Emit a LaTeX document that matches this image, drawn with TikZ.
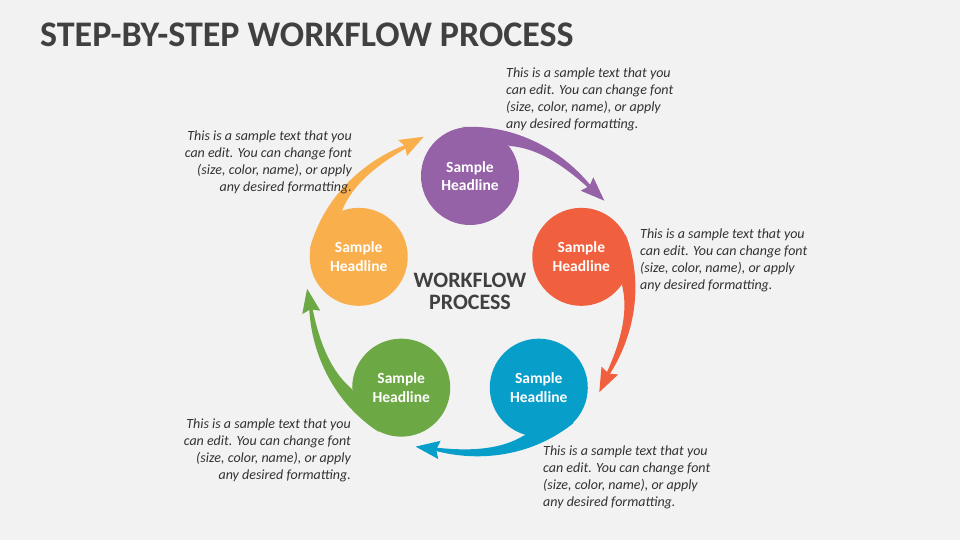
\documentclass[tikz,border=0pt]{standalone}
\usepackage{fontspec}
\setmainfont{Carlito}
\usetikzlibrary{positioning}

\definecolor{bgGray}{RGB}{242,242,242}
\definecolor{textGray}{RGB}{64,64,64}
\definecolor{noteGray}{RGB}{50,50,50}
\definecolor{wfPurple}{RGB}{149,98,168}
\definecolor{wfRed}{RGB}{241,96,62}
\definecolor{wfBlue}{RGB}{8,158,202}
\definecolor{wfGreen}{RGB}{108,168,68}
\definecolor{wfOrange}{RGB}{249,175,76}

\tikzset{
  head/.style={circle, minimum size=98pt, inner sep=0pt, text=white,
    font=\bfseries\fontsize{15.5}{18.5}\selectfont, align=center},
  note/.style={inner sep=0pt, text=noteGray,
    font=\itshape\fontsize{14}{17}\selectfont},
}

\begin{document}
\begin{tikzpicture}[x=1pt,y=1pt]
	\fill[bgGray] (0,0) rectangle (960,540);
	\useasboundingbox (0,0) rectangle (960,540);

	% title
	\node[anchor=base west, inner sep=0pt, text=textGray, font=\bfseries\fontsize{36}{40}\selectfont] (title) at (40,493) {STEP-BY-STEP WORKFLOW PROCESS};

	\coordinate (hub) at (470,247);

	% tapered arrows, one per step, turned round the hub
	\foreach \ang/\col in {0/wfPurple, -72/wfRed, -144/wfBlue, -216/wfGreen, -288/wfOrange}{
		\begin{scope}[shift={(hub)}, rotate=\ang]
			\fill[\col] (-8,166) .. controls (45,169) and (92,143) .. (121,107) -- (118.5,105) .. controls (90,131) and (65,145) .. (40,147) -- cycle;
			\fill[\col] (134.3,92.3) -- (123.3,115.7) -- (119.5,107) -- (110.7,102.3) -- cycle;
		\end{scope}
	}

	% step circles
	\node[head, fill=wfPurple] (purple) at ([shift={(90:117)}]hub) {Sample\\Headline};
	\node[head, fill=wfRed] (red) at ([shift={(18:117)}]hub) {Sample\\Headline};
	\node[head, fill=wfBlue] (blue) at ([shift={(-54:117)}]hub) {Sample\\Headline};
	\node[head, fill=wfGreen] (green) at ([shift={(-126:117)}]hub) {Sample\\Headline};
	\node[head, fill=wfOrange] (orange) at ([shift={(162:117)}]hub) {Sample\\Headline};

	% centre label
	\node[align=center, text=textGray, font=\bfseries\fontsize{22}{22}\selectfont] (centre) at (470,249) {WORKFLOW\\PROCESS};

	% notes
	\node[note, align=left, anchor=north west] (notePurple) at (506,472.5) {This is a sample text that you\\can edit. You can change font\\(size, color, name), or apply\\any desired formatting.};
	\node[note, align=right, anchor=north east] (noteOrange) at (352,409.5) {This is a sample text that you\\can edit. You can change font\\(size, color, name), or apply\\any desired formatting.};
	\node[note, align=left, anchor=north west] (noteRed) at (640,311.5) {This is a sample text that you\\can edit. You can change font\\(size, color, name), or apply\\any desired formatting.};
	\node[note, align=left, anchor=north west] (noteBlue) at (543,94.5) {This is a sample text that you\\can edit. You can change font\\(size, color, name), or apply\\any desired formatting.};
	\node[note, align=right, anchor=north east] (noteGreen) at (351,121.5) {This is a sample text that you\\can edit. You can change font\\(size, color, name), or apply\\any desired formatting.};
\end{tikzpicture}
\end{document}
